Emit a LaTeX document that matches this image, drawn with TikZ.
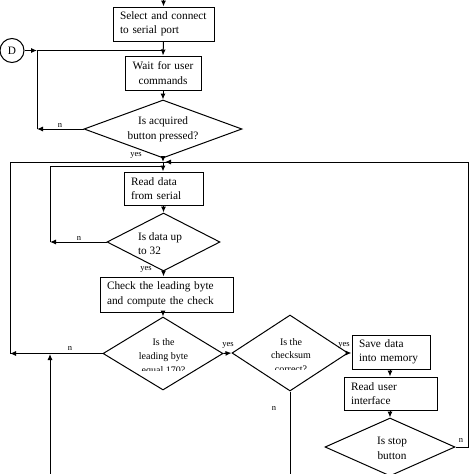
\documentclass[tikz,border=0pt]{standalone}
\usepackage{fontspec}
\setmainfont{Liberation Serif}
\usetikzlibrary{shapes.geometric,arrows.meta}
\begin{document}
\begin{tikzpicture}[x=1pt,y=-1pt,
  line width=1pt,
  arr/.style={-{Latex[length=6pt,width=5pt]}},
  box/.style={draw,rectangle,align=left,inner xsep=7pt,inner ysep=0pt,font=\fontsize{11.3}{14.5}\selectfont},
  dia/.style={draw,diamond,inner sep=0pt},
  dtext/.style={align=center,inner sep=0pt,font=\fontsize{11.3}{14.5}\selectfont},
  stext/.style={align=center,inner sep=0pt,font=\fontsize{10}{13.8}\selectfont},
  lbl/.style={inner sep=0pt,font=\fontsize{8.5}{10}\selectfont}]
\useasboundingbox (0,0) rectangle (474,474);
\clip (0,0) rectangle (474,474);
\fill[white] (0,0) rectangle (474,474);

% boxes
\node[box,text width=87pt,minimum height=34pt] (b1) at (163.5,24) {Select and connect\\to serial port};
\node[box,align=center,text width=62pt,minimum height=34pt] (b2) at (163,73) {Wait for user\\commands};
\node[box,text width=65pt,minimum height=33pt] (b3) at (163.5,188.5) {Read data\\from serial};
\node[box,text width=119pt,minimum height=35pt] (b4) at (166.5,294.5) {Check the leading byte\\and compute the check};
\node[box,text width=64pt,minimum height=34pt] (b5) at (391,352) {Save data\\into memory};
\node[box,text width=79pt,minimum height=33pt] (b6) at (390.5,393.5) {Read user\\interface};

% diamonds
\node[dia,minimum width=158pt,minimum height=58pt] (d1) at (163,129) {};
\node[dia,minimum width=113pt,minimum height=58pt] (d2) at (163.5,242) {};
\node[dia,minimum width=120pt,minimum height=73pt] (d3) at (163,353.5) {};
\node[dia,minimum width=116pt,minimum height=76pt] (d4) at (290,353) {};
\node[dia,minimum width=130pt,minimum height=58pt] (d5) at (390,447) {};

% diamond texts
\node[dtext] (t1) at (163,129.5) {Is acquired\\button pressed?};
\node[dtext,align=left,anchor=west] (t2) at (137.5,243.5) {Is data up\\to 32};
\begin{scope}
\clip (120,330) rectangle (210,370.5);
\node[stext] (t3) at (163.5,357) {Is the\\leading byte\\equal 170?};
\end{scope}
\begin{scope}
\clip (250,330) rectangle (330,369.5);
\node[stext] (t4) at (291,355.5) {Is the\\checksum\\correct?};
\end{scope}
\node[dtext] (t5) at (392,448.5) {Is stop\\button};

% connector D
\node[draw,circle,minimum size=24pt,inner sep=0pt,font=\fontsize{11.3}{13}\selectfont] (D) at (12,50.5) {D};

% coordinates
\coordinate (top) at (163.5,-2);
\coordinate (jD) at (37,50.5);
\coordinate (j1) at (163,50.5);
\coordinate (L1) at (37,129);
\coordinate (m1) at (163,162);
\coordinate (m1r) at (165,162);
\coordinate (m2) at (163,166);
\coordinate (R1) at (468,447);
\coordinate (R2) at (468,162);
\coordinate (L3) at (10,353.5);
\coordinate (L4) at (10,162);
\coordinate (L5) at (50,242);
\coordinate (L6) at (50,166);
\coordinate (L7) at (50,354);
\coordinate (B2) at (50,480);

% connectors
\draw[arr] (top) -- (b1.north);
\draw[arr] (b1.south) -- (b2.north);
\draw[arr] (D.east) -- (jD);
\draw (jD) -- (j1);
\draw[arr] (b2.south) -- (d1.north);
\draw[arr] (d1.west) -- (L1);
\draw (L1) -- (jD);
\draw[arr] (d1.south) -- (m1);
\draw[arr] (d5.east) -- (R1) -- (R2) -- (m1r);
\draw (R2) -- (m1);
\draw[arr] (d3.west) -- (L3);
\draw (L3) -- (L4) -- (m1);
\draw[arr] (d2.west) -- (L5);
\draw (L5) -- (L6) -- (m2);
\draw[arr] (m1) -- (b3.north -| m1);
\draw[arr] (b3.south -| d2.north) -- (d2.north);
\draw[arr] (d2.south) -- (d2.south |- b4.north);
\draw[arr] (d3.north |- b4.south) -- (d3.north);
\draw[arr] (d3.east) -- (d4.west);
\draw[arr] (d4.east) -- (d4.east -| b5.west);
\draw[arr] (b5.south -| d5.north) -- (b6.north -| d5.north);
\draw[arr] (b6.south -| d5.north) -- (d5.north);
\draw (d4.south) -- (d4.south |- B2);
\draw[arr] (B2) -- (L7);

% labels
\node[lbl] (n1) at (60,125) {n};
\node[lbl] (y1) at (136,155) {yes};
\node[lbl] (n2) at (79,238) {n};
\node[lbl] (y2) at (146,269.5) {yes};
\node[lbl] (n3) at (70,348) {n};
\node[lbl] (y3) at (228,345) {yes};
\node[lbl] (y4) at (344,345) {yes};
\node[lbl] (n4) at (274,408) {n};
\node[lbl] (n5) at (461,440) {n};
\end{tikzpicture}
\end{document}
